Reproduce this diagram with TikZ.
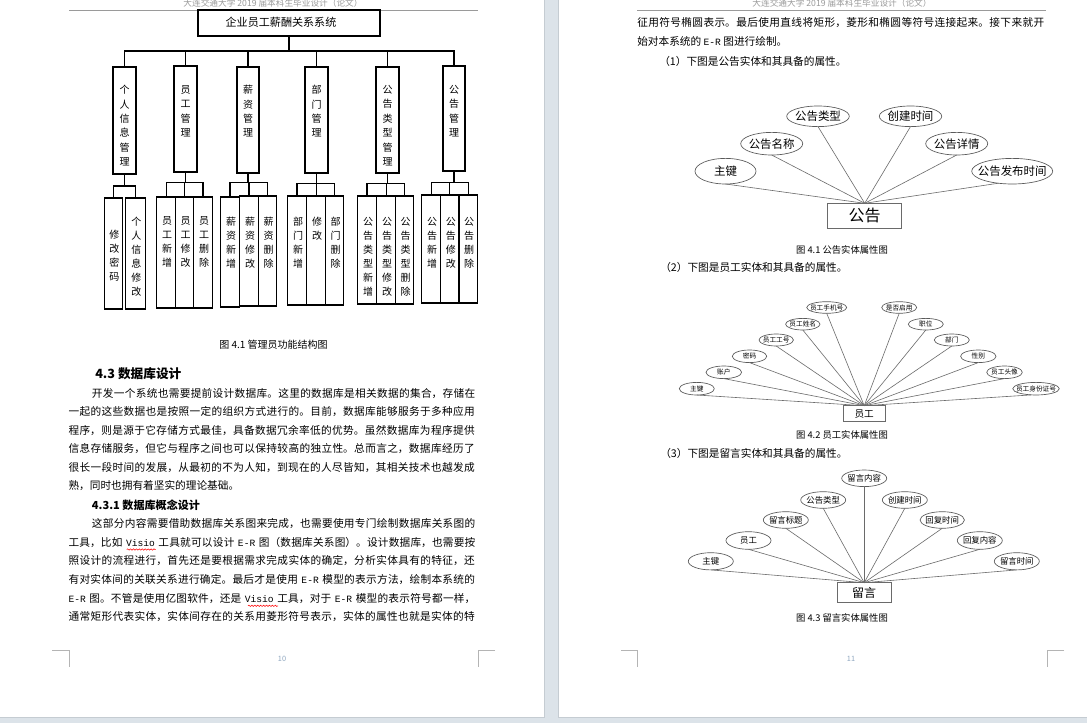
\documentclass[tikz,border=0pt]{standalone}
\usepackage{fontspec}
\setmainfont{Noto Sans CJK SC}
\newfontfamily\lmono{Liberation Mono}
\usetikzlibrary{shapes.geometric,decorations.pathmorphing}
\XeTeXlinebreaklocale "zh"
\XeTeXlinebreakskip=0pt plus 3pt minus 0.4pt
\definecolor{bgc}{HTML}{DCE3E9}
\definecolor{hdrc}{HTML}{9A9A9A}
\definecolor{erc}{HTML}{6A6A6A}
\definecolor{edgec}{HTML}{C5CCD2}
\definecolor{cornc}{HTML}{B4B4B4}
\definecolor{pnc}{HTML}{8FA7C0}
\newcommand\fbody{\fontsize{8}{10}\selectfont}
\newcommand\bx[6][tbox]{\node[#1, minimum width={(#5-#3)*0.75pt}, minimum height={(#6-#4)*0.75pt}] (#2) at ({(#3+#5)/2},{(#4+#6)/2}) {};}
\newcommand\erel[6]{\node[erell, minimum width={2*#4*0.75pt}, minimum height={2*#5*0.75pt}, label={[erlab]center:#6}] (#1) at (#2,#3) {};}
\newcommand\jline[5]{\node[txt, text width=#4] (#1) at (#2,#3) {\noindent\hyphenpenalty=10000\relax\parfillskip=0pt\relax #5\par};}
\newcommand\VS{\mbox{\lmono\fontsize{7.2}{10}\selectfont Visio}}
\newcommand\ER{\mbox{\lmono\fontsize{7.2}{10}\selectfont E-R}}
\begin{document}
\begin{tikzpicture}[x=0.75pt,y=-0.75pt,
  tbox/.style={draw=black, line width=0.8pt, inner sep=0, outer sep=0, rectangle},
  tl/.style={draw=black, line width=0.8pt},
  vtA/.style={anchor=north, align=center, inner sep=0, font=\fontsize{7.5}{10.8}\selectfont},
  vtB/.style={anchor=north, align=center, inner sep=0, font=\fontsize{7.5}{10.5}\selectfont},
  txt/.style={anchor=west, inner sep=0, font=\fbody},
  capt/.style={inner sep=0, font=\fontsize{7}{8}\selectfont},
  erell/.style={ellipse, draw=erc!85!black, line width=0.5pt, inner sep=0, outer sep=0},
  erlab/.style={inner sep=0},
  erbox/.style={draw=erc, line width=0.7pt, inner sep=0, outer sep=0, rectangle},
  erline/.style={draw=erc, line width=0.45pt},
  cornmark/.style={draw=cornc, line width=0.6pt},
  hdrtxt/.style={inner sep=0, text=hdrc, font=\fontsize{6.5}{7}\selectfont},
  pgnum/.style={inner sep=0, text=pnc, font=\fontsize{5.5}{6}\selectfont}]
\useasboundingbox (0,0) rectangle (1087,723);
% background and pages
\fill[bgc] (0,0) rectangle (1087,723);
\fill[white] (0,0) rectangle (544,717);
\fill[white] (558,0) rectangle (1087,717);
\draw[edgec, line width=0.5pt] (544,0) -- (544,717) -- (0,717);
\draw[edgec, line width=0.5pt] (558,0) -- (558,717) -- (1087,717);
% headers
\node[hdrtxt] (hdrL) at (273,3.5) {大连交通大学 2019 届本科生毕业设计（论文）};
\node[hdrtxt] (hdrR) at (842,3.5) {大连交通大学 2019 届本科生毕业设计（论文）};
\draw[hdrc, line width=0.6pt] (69,10) -- (478,10);
\draw[hdrc, line width=0.6pt] (637,10) -- (1046,10);
% ===== tree chart =====
\bx{top}{198}{10}{380}{36}
\node[inner sep=0, font=\fontsize{8.3}{9}\selectfont] (toptxt) at (281,22) {企业员工薪酬关系系统};
\bx{b1}{113}{67}{136}{174}
\bx{b2}{174}{66}{197}{172}
\bx{b3}{237}{67}{259}{173}
\bx{b4}{305}{67}{328}{173}
\bx{b5}{376}{67}{399}{173}
\bx{b6}{443}{66}{465}{171}
\node[vtA] (t1) at (124.5,85) {个\\人\\信\\息\\管\\理};
\node[vtA] (t2) at (185.5,85) {员\\工\\管\\理};
\node[vtA] (t3) at (248,85) {薪\\资\\管\\理};
\node[vtA] (t4) at (316.5,85) {部\\门\\管\\理};
\node[vtA] (t5) at (387.5,85) {公\\告\\类\\型\\管\\理};
\node[vtA] (t6) at (454,85) {公\\告\\管\\理};
\coordinate (bar1) at (0,51);
\draw[tl] (top.south) -- (top.south |- bar1);
\draw[tl] (b1.north) -- (b1.north |- bar1) -- (b6.north |- bar1) -- (b6.north);
\foreach \n in {b2,b3,b4,b5} \draw[tl] (\n.north) -- (\n.north |- bar1);
% level 2 boxes
\bx{c11}{104.3}{198}{122.3}{309}
\bx{c12}{125.3}{198}{145.3}{309}
\bx{c21}{156.7}{197}{175.7}{308}
\bx{c22}{175.7}{197}{193.7}{308}
\bx{c23}{193.7}{197}{212.3}{308}
\bx{c31}{220.7}{197}{239.3}{307}
\bx{c32}{239.3}{196}{258.7}{306}
\bx{c33}{258.7}{196}{276.7}{306}
\bx{c41}{287.3}{196}{306.7}{305}
\bx{c42}{306.7}{196}{325.7}{305}
\bx{c43}{325.7}{196}{343.3}{305}
\bx{c51}{357.3}{196}{376.7}{304}
\bx{c52}{376.7}{196}{395.7}{304}
\bx{c53}{395.7}{196}{413.3}{304}
\bx{c61}{421.7}{195}{440.7}{303}
\bx{c62}{440.7}{195}{459}{303}
\bx{c63}{459}{195}{477.3}{303}
% group connectors
\coordinate (g1) at (0,186);
\coordinate (g2) at (0,182.7);
\coordinate (g3) at (0,182.7);
\coordinate (g4) at (0,183.3);
\coordinate (g5) at (0,183.3);
\coordinate (g6) at (0,182.3);
\draw[tl] (b1.south) -- (b1.south |- g1);
\draw[tl] (c11.north) -- (c11.north |- g1) -- (c12.north |- g1) -- (c12.north);
\foreach \g in {2,...,6}{
  \draw[tl] (b\g.south) -- (b\g.south |- g\g);
  \draw[tl] (c\g1.north) -- (c\g1.north |- g\g) -- (c\g3.north |- g\g) -- (c\g3.north);
  \draw[tl] (c\g2.north) -- (c\g2.north |- g\g);
}
% level 2 texts
\node[vtB] (u11) at (114.3,230) {修\\改\\密\\码};
\node[vtB] (u12) at (136.3,216.7) {个\\人\\信\\息\\修\\改};
\node[vtB] (u21) at (167.2,216.7) {员\\工\\新\\增};
\node[vtB] (u22) at (185.7,216.7) {员\\工\\修\\改};
\node[vtB] (u23) at (204,216.7) {员\\工\\删\\除};
\node[vtB] (u31) at (231,216.7) {薪\\资\\新\\增};
\node[vtB] (u32) at (250,216.7) {薪\\资\\修\\改};
\node[vtB] (u33) at (268.7,216.7) {薪\\资\\删\\除};
\node[vtB] (u41) at (298,216.7) {部\\门\\新\\增};
\node[vtB] (u42) at (317.2,216.7) {修\\改};
\node[vtB] (u43) at (335.5,216.7) {部\\门\\删\\除};
\node[vtB] (u51) at (368,216.7) {公\\告\\类\\型\\新\\增};
\node[vtB] (u52) at (387.2,216.7) {公\\告\\类\\型\\修\\改};
\node[vtB] (u53) at (405.5,216.7) {公\\告\\类\\型\\删\\除};
\node[vtB] (u61) at (432.2,216.7) {公\\告\\新\\增};
\node[vtB] (u62) at (450.8,216.7) {公\\告\\修\\改};
\node[vtB] (u63) at (469.2,216.7) {公\\告\\删\\除};
\node[capt, font=\fontsize{7.5}{8}\selectfont] (cap0) at (273.5,345) {图 4.1 管理员功能结构图};
% ===== left page text =====
\node[txt, font=\bfseries\fontsize{9.5}{11}\selectfont] (sec1) at (95,374) {4.3 数据库设计};
\jline{p1a}{91.7}{393.3}{288.75pt}{开发一个系统也需要提前设计数据库。这里的数据库是相关数据的集合，存储在}
\jline{p1b}{68.3}{411.7}{306pt}{一起的这些数据也是按照一定的组织方式进行的。目前，数据库能够服务于多种应用}
\jline{p1c}{68.3}{430.7}{306pt}{程序，则是源于它存储方式最佳，具备数据冗余率低的优势。虽然数据库为程序提供}
\jline{p1d}{68.3}{449}{306pt}{信息存储服务，但它与程序之间也可以保持较高的独立性。总而言之，数据库经历了}
\jline{p1e}{68.3}{467.3}{306pt}{很长一段时间的发展，从最初的不为人知，到现在的人尽皆知，其相关技术也越发成}
\node[txt] (p1f) at (68.3,485.7) {熟，同时也拥有着坚实的理论基础。};
\node[txt, font=\bfseries\fontsize{8.3}{10}\selectfont] (sec2) at (91.7,505) {4.3.1 数据库概念设计};
\jline{p2a}{91.7}{523.3}{288.75pt}{这部分内容需要借助数据库关系图来完成，也需要使用专门绘制数据库关系图的}
\jline{p2b}{68.3}{542.3}{306pt}{工具，比如 \VS{} 工具就可以设计 \ER{} 图（数据库关系图）。设计数据库，也需要按}
\jline{p2c}{68.3}{561}{306pt}{照设计的流程进行，首先还是要根据需求完成实体的确定，分析实体具有的特征，还}
\jline{p2d}{68.3}{579.3}{306pt}{有对实体间的关联关系进行确定。最后才是使用 \ER{} 模型的表示方法，绘制本系统的}
\jline{p2e}{68.3}{598.3}{306pt}{\ER{} 图。不管是使用亿图软件，还是 \VS{} 工具，对于 \ER{} 模型的表示符号都一样，}
\jline{p2f}{68.3}{616.7}{306pt}{通常矩形代表实体，实体间存在的关系用菱形符号表示，实体的属性也就是实体的特}
\draw[red, line width=0.4pt, decorate, decoration={snake, amplitude=0.5pt, segment length=2.2pt}] (126.7,549.5) -- (155.7,549.5);
\draw[red, line width=0.4pt, decorate, decoration={snake, amplitude=0.5pt, segment length=2.2pt}] (248,605.8) -- (278,605.8);
% ===== right page text =====
\jline{r1}{637}{22.5}{306.75pt}{征用符号椭圆表示。最后使用直线将矩形，菱形和椭圆等符号连接起来。接下来就开}
\node[txt] (r2) at (637,41) {始对本系统的 \ER{} 图进行绘制。};
\node[txt] (r3) at (659,61.5) {（1）下图是公告实体和其具备的属性。};
\node[txt] (r4) at (660,267.3) {（2）下图是员工实体和其具备的属性。};
\node[txt] (r5) at (660,453.3) {（3）下图是留言实体和其具备的属性。};
% ===== ER 1: 公告 =====
\begin{scope}[erlab/.style={inner sep=0, font=\fontsize{8.6}{9}\selectfont}]
\node[erbox, minimum width={74*0.75pt}, minimum height={25*0.75pt}, font=\fontsize{12}{13}\selectfont] (gg) at (864.7,215.8) {公告};
\erel{a1}{725.5}{171.2}{30.5}{12.8}{主键}
\erel{a2}{771.7}{143.7}{31}{11.3}{公告名称}
\erel{a3}{818}{116.3}{31.3}{10.3}{公告类型}
\erel{a4}{910.5}{116.3}{31.2}{10.3}{创建时间}
\erel{a5}{956.7}{143.7}{31}{11.3}{公告详情}
\erel{a6}{1012.2}{171.2}{40.5}{12.8}{公告发布时间}
\foreach \e in {a1,a2,a3,a4,a5} \draw[erline] (\e.south) -- (gg.north);
\draw[erline] (a6.221) -- (gg.north);
\end{scope}
\node[capt] (cap1) at (842,250) {图 4.1 公告实体属性图};
% ===== ER 2: 员工 =====
\begin{scope}[erlab/.style={inner sep=0, font=\fontsize{5}{6}\selectfont}]
\node[erbox, minimum width={41.7*0.75pt}, minimum height={16*0.75pt}, font=\fontsize{7.2}{8}\selectfont] (yg) at (864.2,413.7) {员工};
\erel{e1}{696.8}{388.7}{17.5}{6.3}{主键}
\erel{e2}{723.8}{372.3}{17.8}{6.3}{账户}
\erel{e3}{749.5}{356.3}{17.2}{6.3}{密码}
\erel{e4}{776.2}{340}{17.2}{6}{员工工号}
\erel{e5}{802.8}{324.2}{17.2}{5.8}{员工姓名}
\erel{e6}{826.7}{307.5}{20}{5.8}{员工手机号}
\erel{e7}{899.2}{307.5}{17.5}{5.8}{是否启用}
\erel{e8}{925.8}{324.2}{17.5}{5.8}{职位}
\erel{e9}{951.8}{340}{17.5}{6}{部门}
\erel{e10}{978.3}{356.3}{17.7}{6.3}{性别}
\erel{e11}{1004.5}{372.3}{17.8}{6.3}{员工头像}
\erel{e12}{1036}{388.7}{23.3}{6.3}{员工身份证号}
\foreach \e in {e1,e2,e3,e4,e5,e6,e7,e8,e9,e10,e11} \draw[erline] (\e.south) -- (yg.north);
\draw[erline] (e12.235) -- (yg.north);
\end{scope}
\node[capt] (cap2) at (842,435) {图 4.2 员工实体属性图};
% ===== ER 3: 留言 =====
\begin{scope}[erlab/.style={inner sep=0, font=\fontsize{6.3}{7}\selectfont}]
\node[erbox, minimum width={53.7*0.75pt}, minimum height={20*0.75pt}, font=\fontsize{9}{10}\selectfont] (ly) at (864.2,592.7) {留言};
\erel{m1}{710.8}{561.3}{22.5}{8.6}{主键}
\erel{m2}{748.5}{540.5}{22.5}{8.8}{员工}
\erel{m3}{785.8}{520}{22.5}{8.3}{留言标题}
\erel{m4}{823.2}{500}{22.5}{8.3}{公告类型}
\erel{m5}{864.2}{478.3}{22.5}{8.3}{留言内容}
\erel{m6}{904.8}{500}{22.5}{8.3}{创建时间}
\erel{m7}{942.2}{520}{22.2}{8.3}{回复时间}
\erel{m8}{979.8}{540.5}{22.5}{8.8}{回复内容}
\erel{m9}{1016.8}{561.3}{22.5}{8.6}{留言时间}
\foreach \e in {m1,m2,m3,m4,m5,m6,m7,m8,m9} \draw[erline] (\e.south) -- (ly.north);
\end{scope}
\node[capt] (cap3) at (842,618.3) {图 4.3 留言实体属性图};
% ===== page corners and numbers =====
\draw[cornmark] (52,650) -- (69,650) -- (69,667);
\draw[cornmark] (495,650) -- (478,650) -- (478,667);
\draw[cornmark] (621,650) -- (637,650) -- (637,667);
\draw[cornmark] (1064,650) -- (1047,650) -- (1047,667);
\node[pgnum] (pg10) at (282,659) {10};
\node[pgnum] (pg11) at (851,659) {11};
\end{tikzpicture}
\end{document}
